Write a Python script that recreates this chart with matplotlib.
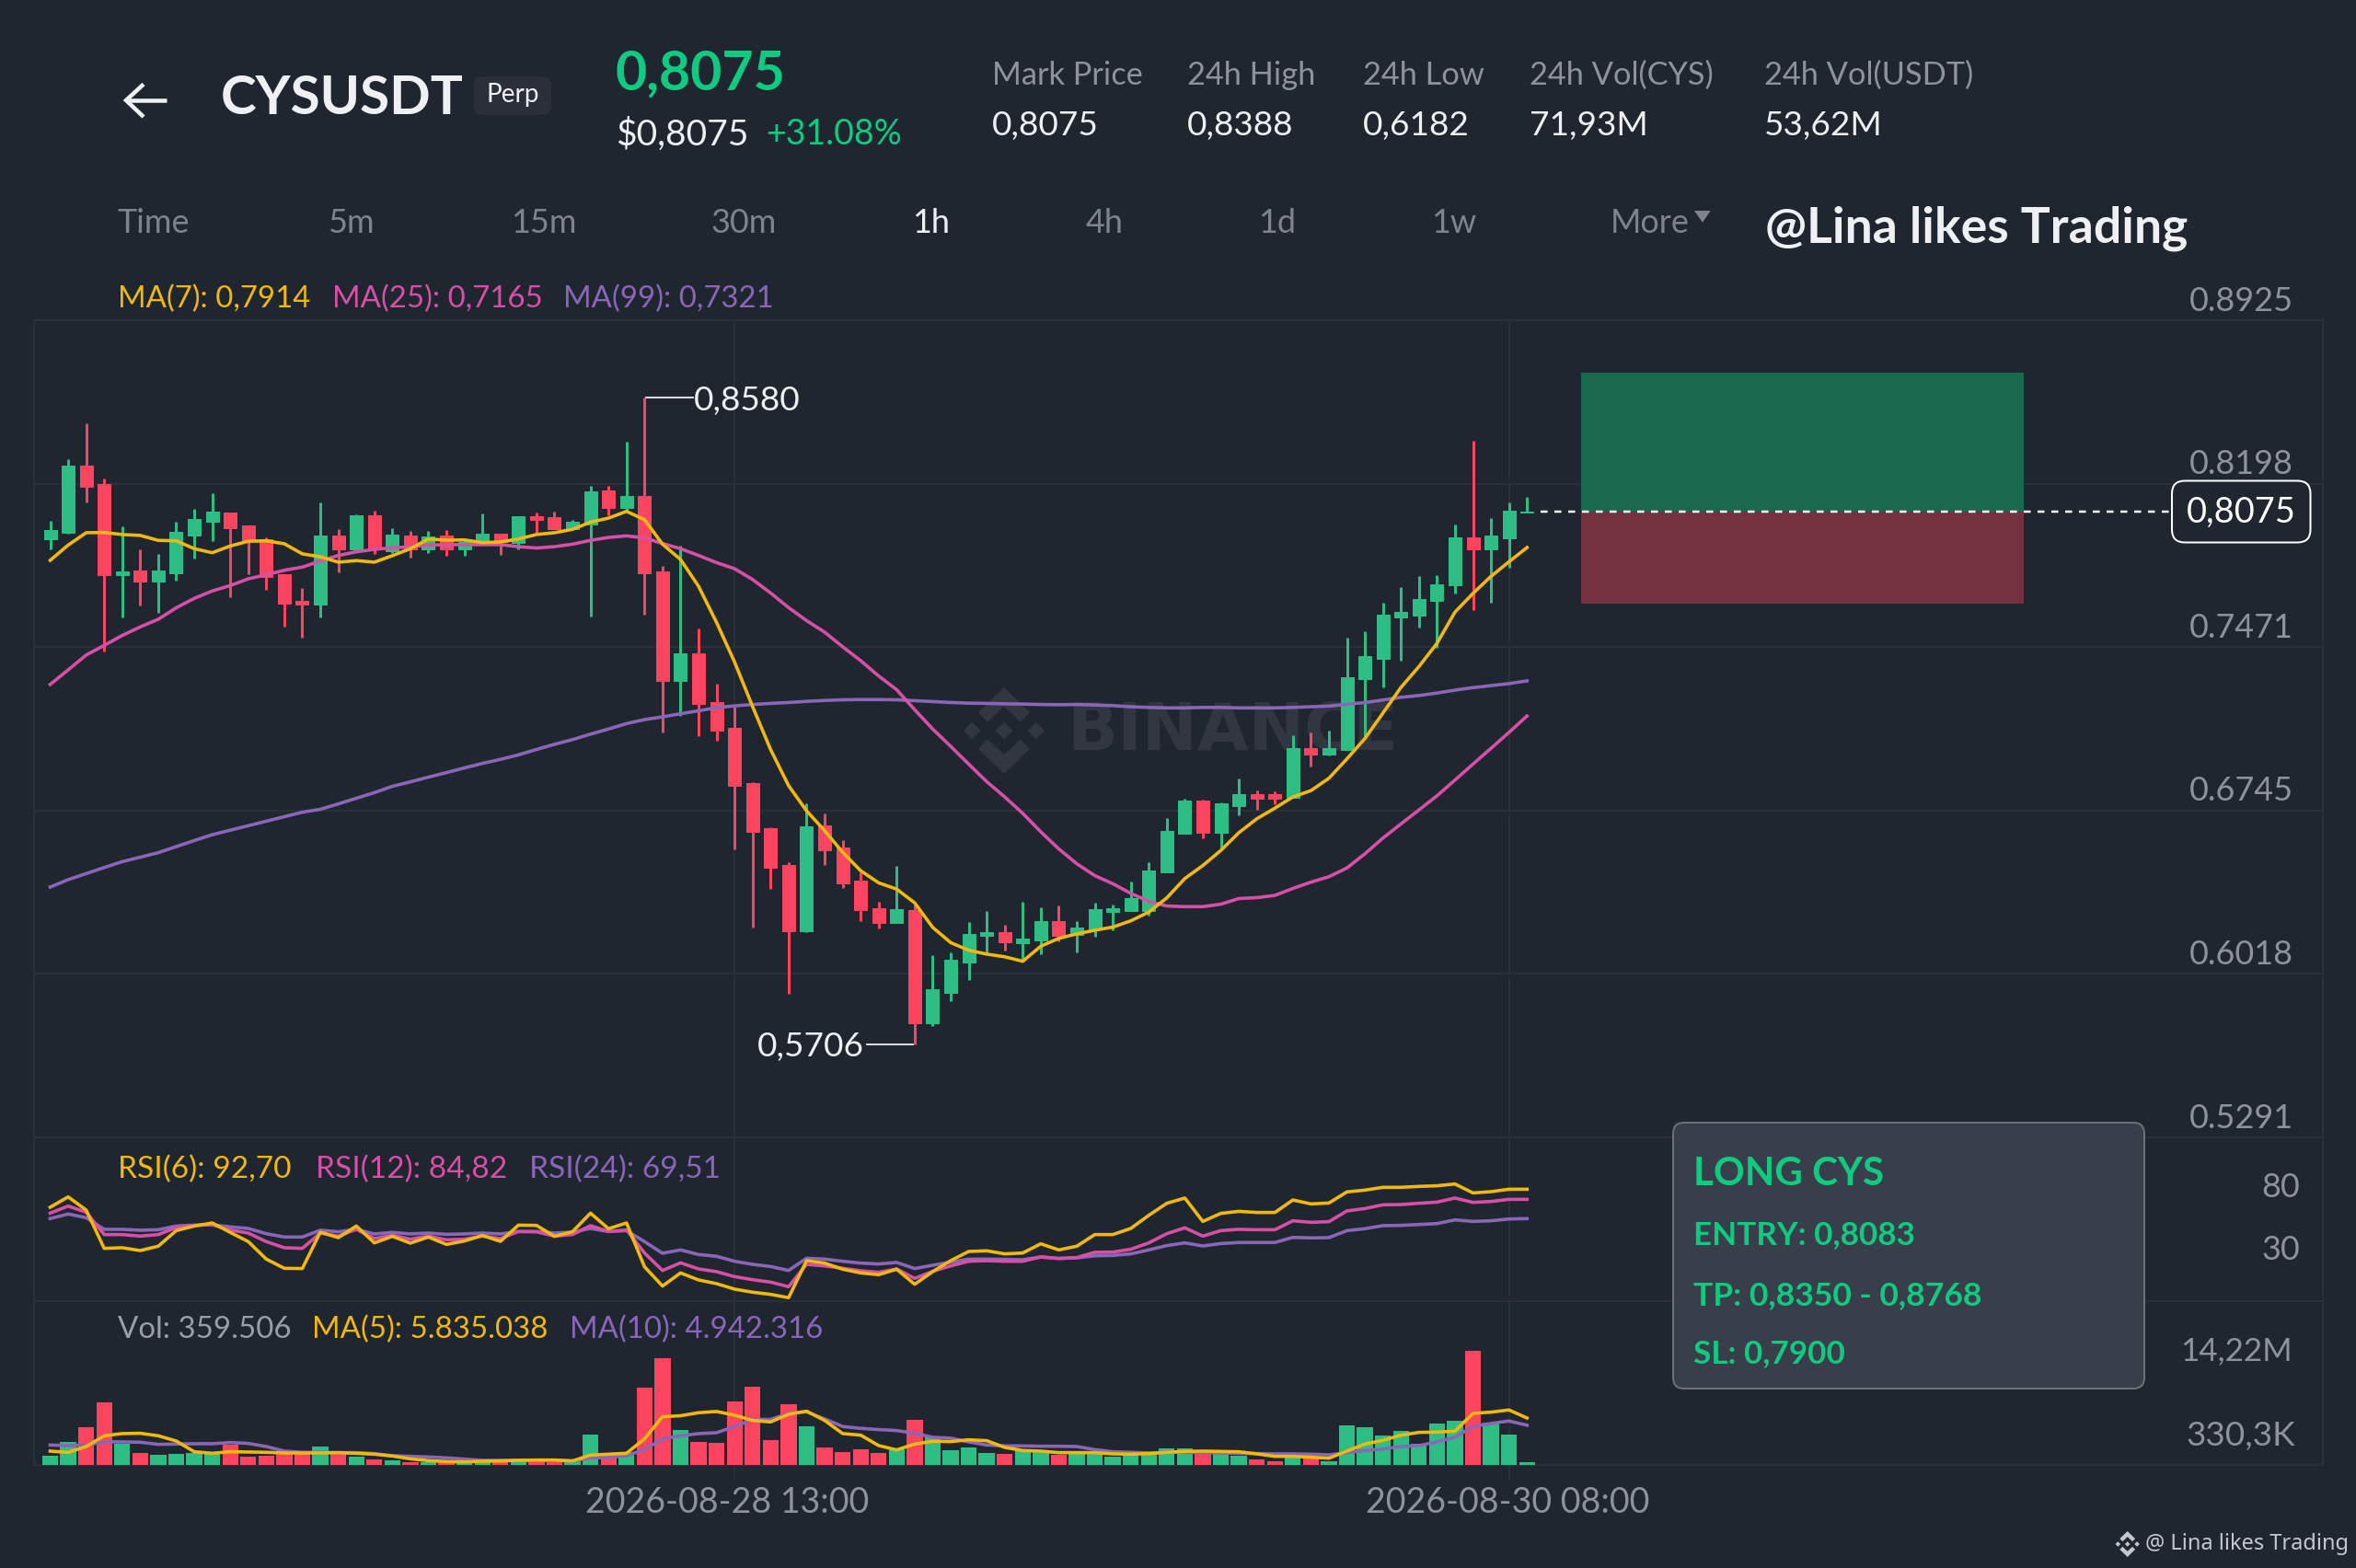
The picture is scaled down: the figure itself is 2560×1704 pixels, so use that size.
import matplotlib
matplotlib.use("Agg")
import matplotlib.pyplot as plt
from matplotlib.patches import FancyBboxPatch, Polygon
from matplotlib.transforms import blended_transform_factory
import numpy as np

plt.rcParams['font.family'] = ['Lato', 'DejaVu Sans']

highs = [.8032,.8307,.8468,.8223,.8008,.7908,.7887,.8029,.8086,.8156,
 .8071,.8011,.7959,.7797,.7736,.8115,.7995,.8062,.8077,.7999,
 .7987,.7988,.7992,.7957,.8064,.7977,.8052,.8071,.8072,.8038,
 .8188,.8188,.8383,.8580,.7831,.7922,.7554,.7309,.7207,.6869,
 .6671,.6514,.6777,.6732,.6614,.6470,.6337,.6498,.6327,.6102,
 .6114,.6248,.6296,.6236,.6337,.6316,.6323,.6254,.6336,.6328,
 .6429,.6516,.6710,.6797,.6794,.6779,.6885,.6833,.6830,.7081,
 .7093,.7101,.7515,.7540,.7670,.7739,.7787,.7792,.8016,.8388,
 .8047,.8114,.8141]
lows = [.7906,.7977,.8116,.7453,.7602,.7656,.7625,.7766,.7867,.7942,
 .7693,.7794,.7726,.7564,.7513,.7602,.7802,.7899,.7884,.7890,
 .7871,.7890,.7879,.7879,.7929,.7882,.7906,.7970,.7995,.7995,
 .7606,.8059,.8072,.7616,.7090,.7165,.7077,.7056,.6573,.6225,
 .6395,.5929,.6203,.6502,.6398,.6252,.6221,.6244,.5706,.5786,
 .5898,.5990,.6109,.6121,.6082,.6106,.6164,.6112,.6182,.6212,
 .6298,.6278,.6469,.6642,.6621,.6570,.6722,.6749,.6774,.6802,
 .6940,.6990,.7013,.7076,.7291,.7410,.7557,.7468,.7710,.7635,
 .7670,.7825,.8071]
opens = [.7952,.7980,.8277,.8195,.7790,.7813,.7763,.7800,.7966,.8030,
 .8071,.8011,.7950,.7794,.7676,.7661,.7969,.7908,.8059,.7899,
 .7969,.7905,.7966,.7905,.7936,.7977,.7933,.8052,.8048,.7995,
 .8015,.8168,.8090,.8145,.7808,.7320,.7445,.7227,.7114,.6866,
 .6668,.6503,.6207,.6679,.6581,.6434,.6312,.6244,.6303,.5798,
 .5933,.6069,.6187,.6202,.6155,.6165,.6251,.6191,.6215,.6293,
 .6298,.6298,.6469,.6642,.6790,.6647,.6766,.6819,.6816,.6802,
 .7021,.6993,.7013,.7330,.7419,.7604,.7612,.7677,.7745,.7961,
 .7905,.7956,.8071]
closes = [.7991,.8280,.8184,.7790,.7808,.7761,.7811,.7982,.8041,.8072,
 .7999,.7943,.7783,.7665,.7661,.7966,.7906,.8058,.7906,.7972,
 .7906,.7963,.7906,.7939,.7976,.7939,.8052,.8036,.7995,.8029,
 .8165,.8092,.8143,.7800,.7320,.7444,.7217,.7101,.6855,.6650,
 .6491,.6209,.6675,.6569,.6421,.6300,.6243,.6304,.5798,.5948,
 .6079,.6196,.6202,.6157,.6174,.6251,.6187,.6224,.6306,.6309,
 .6356,.6476,.6653,.6790,.6644,.6777,.6819,.6799,.6799,.7021,
 .6993,.7021,.7339,.7432,.7615,.7627,.7685,.7750,.7959,.7905,
 .7966,.8078,.8075]
ma7 = [.7857,.7925,.7980,.7981,.7972,.7968,.7946,.7944,.7909,.7891,.7921,.7942,.7944,.7931,.7886,.7873,.7849,.7856,.7849,.7878,
 .7909,.7952,.7947,.7948,.7936,.7939,.7952,.7972,.7980,.7995,.8027,.8045,.8075,.8038,.7929,.7861,.7742,.7581,
 .7405,.7207,.7016,.6855,.6743,.6655,.6559,.6477,.6423,.6395,.6334,.6225,.6157,.6123,.6106,
 .6094,.6074,.6141,.6176,.6196,.6212,.6226,.6254,.6293,.6356,.6442,.6500,.6567,.6646,.6708,.6755,.6805,.6833,.6888,.6974,.7065,.7178,.7292,.7385,.7488,.7627,.7710,.7786,.7851,.7914]
ma25 = [.7305,.7370,.7436,.7479,.7523,.7561,.7595,.7646,.7688,.7721,
 .7745,.7775,.7793,.7813,.7827,.7854,.7879,.7895,.7906,.7913,
 .7917,.7925,.7927,.7927,.7927,.7927,.7918,.7912,.7918,.7929,
 .7946,.7959,.7966,.7957,.7932,.7909,.7879,.7847,.7820,.7772,
 .7712,.7647,.7589,.7538,.7473,.7411,.7343,.7282,.7193,.7107,
 .7030,.6951,.6873,.6805,.6732,.6650,.6574,.6508,.6455,.6419,
 .6376,.6340,.6320,.6317,.6317,.6328,.6353,.6357,.6367,.6398,
 .6426,.6450,.6489,.6552,.6622,.6685,.6747,.6810,.6880,.6951,
 .7021,.7092,.7165]
ma99 = [.6404,.6437,.6464,.6491,.6517,.6537,.6557,.6584,.6611,.6637,
 .6657,.6677,.6697,.6717,.6737,.6750,.6774,.6799,.6824,.6852,
 .6872,.6893,.6913,.6934,.6954,.6972,.6992,.7016,.7039,.7060,
 .7084,.7107,.7131,.7149,.7161,.7175,.7188,.7202,.7210,.7216,
 .7221,.7225,.7230,.7234,.7237,.7238,.7238,.7237,.7233,.7229,
 .7225,.7222,.7221,.7219,.7218,.7216,.7215,.7216,.7214,.7211,
 .7206,.7203,.7201,.7201,.7203,.7203,.7201,.7201,.7201,.7203,
 .7206,.7209,.7217,.7225,.7236,.7248,.7256,.7267,.7280,.7291,
 .7300,.7309,.7321]
rsi6 = [78.6,86.7,76.4,46.4,46.9,44.7,48.1,60.3,63.9,66.3,58.9,51.7,38.0,30.8,30.6,59.1,54.8,63.9,50.7,55.8,
 50.5,55.3,49.5,52.2,56.5,51.9,64.6,64.4,55.8,59.4,74.0,61.8,66.3,32.0,16.9,27.2,21.7,18.8,14.5,12.1,10.4,7.8,
 36.8,34.9,30.1,27.2,25.8,30.1,18.3,28.2,36.8,44.0,44.5,42.1,42.8,50.0,45.2,48.1,57.2,57.2,62.0,72.3,81.7,85.8,
 67.5,73.8,75.4,74.5,74.5,84.3,81.2,81.9,90.6,92.0,94.2,94.2,94.9,95.4,96.8,89.8,90.8,92.7,92.7]
rsi12 = [74.0,79.5,74.7,57.2,57.2,56.0,57.2,62.7,64.4,64.9,60.8,58.4,51.7,46.9,46.4,58.4,56.0,61.3,54.1,56.7,
 53.6,56.0,53.1,53.6,56.0,54.1,59.6,59.4,56.0,57.2,64.2,59.6,60.8,42.8,29.1,35.1,30.3,28.2,24.3,21.9,20.0,16.4,
 33.9,32.7,30.8,28.9,27.7,30.3,22.9,28.4,32.7,36.3,36.8,36.3,36.3,39.7,38.5,39.2,43.3,43.5,45.7,50.7,57.9,62.5,
 56.0,60.3,61.3,61.0,61.0,68.0,66.8,67.3,75.7,77.6,80.5,80.7,81.7,82.6,85.8,82.4,83.1,84.8,84.8]
rsi24 = [69.7,73.3,70.4,61.3,61.3,60.6,61.0,63.9,64.6,64.9,63.2,62.0,57.9,55.3,55.3,60.6,59.4,61.3,57.7,58.9,
 57.7,58.4,57.4,57.7,58.4,57.7,59.6,59.6,58.4,59.1,62.0,59.6,60.3,51.7,42.6,45.2,41.6,40.2,36.3,33.9,32.2,29.1,
 38.7,38.0,36.3,34.9,34.2,35.4,30.6,33.2,35.6,38.0,38.0,37.8,37.5,39.7,38.5,39.0,40.6,40.9,42.1,45.2,48.6,50.7,
 48.3,50.2,51.0,51.0,51.0,55.0,54.6,54.8,60.3,61.8,64.2,64.4,65.1,65.8,68.7,67.5,68.0,69.4,69.7]
volume = [1.11,2.87,4.66,7.80,2.64,1.45,1.30,1.38,1.45,1.38,2.48,1.03,1.15,1.41,1.34,2.33,1.34,1.03,.65,.54,
 .34,.38,.31,.31,.65,.42,.84,.50,.38,.46,3.75,.96,1.64,9.67,13.3,4.40,2.91,2.71,7.95,9.75,3.10,7.61,4.85,
 2.18,1.64,1.99,1.45,1.99,5.58,3.59,1.83,2.22,1.45,1.34,1.91,1.64,1.22,1.45,1.53,1.03,1.34,1.57,2.03,2.06,
 1.53,1.34,1.15,.65,.42,1.53,.88,.46,4.89,4.74,3.63,4.20,2.68,5.12,5.47,14.22,5.31,3.82,.36]
vol_ma5 = [1.72,1.57,2.29,3.63,3.90,3.94,3.63,2.98,1.64,1.45,1.64,1.61,1.57,1.49,1.49,1.49,1.53,1.45,1.34,1.11,
 .76,.54,.42,.38,.46,.50,.57,.61,.61,.50,1.22,1.34,1.45,3.25,6.00,6.12,6.50,6.65,6.19,5.54,5.35,6.31,6.69,
 5.54,3.90,3.71,2.41,1.87,2.60,2.94,2.91,3.13,3.02,2.18,1.80,1.72,1.53,1.53,1.53,1.38,1.34,1.41,1.57,1.68,
 1.72,1.68,1.64,1.38,1.07,1.07,.96,.84,1.72,2.60,3.06,3.71,4.05,4.09,4.20,6.42,6.57,6.84,5.84]
vol_ma10 = [2.48,2.41,2.48,2.87,2.87,2.83,2.56,2.60,2.64,2.64,2.79,2.68,2.29,1.72,1.57,1.57,1.53,1.53,1.41,1.15,
 1.07,.99,.88,.73,.57,.57,.57,.57,.57,.50,.84,.96,1.15,1.91,3.25,3.63,3.90,4.01,4.78,5.66,5.66,6.42,6.61,
 5.73,4.78,4.55,4.40,4.28,3.94,3.44,3.33,2.87,2.48,2.37,2.37,2.33,2.33,2.29,1.91,1.64,1.57,1.49,1.57,1.57,
 1.53,1.49,1.45,1.41,1.38,1.38,1.34,1.26,1.53,1.80,1.99,2.29,2.41,2.87,3.44,4.78,5.16,5.47,4.94]
price_ticks = [.8925,.8198,.7471,.6745,.6018,.5291]
price_tick_labels = ['0.8925','0.8198','0.7471','0.6745','0.6018','0.5291']
date_ticks = [38, 81]
date_labels = ['2026-08-28 13:00','2026-08-30 08:00']
last_price = .8075
tp_zone = (.8075,.8692)
sl_zone = (.7665,.8075)

W,H = 2560,1704
BG='#1f2630'; GRID='#2a2f39'; UP='#2ebd85'; DN='#fb4560'
YEL='#f0b90b'; MAG='#d84fa6'; PUR='#8a66b8'; GRAY='#8e929c'; TXTG='#0ecb81'; WHITE='#eef0f3'
px=lambda v:v*0.72
LW=px(3.6)

fig=plt.figure(figsize=(W/100,H/100),dpi=100,facecolor=BG)
def overlay(z):
    a=fig.add_axes([0,0,1,1],zorder=z); a.set_xlim(0,W); a.set_ylim(H,0); a.axis('off'); a.patch.set_alpha(0); return a
back=overlay(0); ui=overlay(5)

L,R=36.5,2524
x0,dx=54.5,19.57
xlim=((L-x0)/dx,(R-x0)/dx)
def pane(top,bot,ylim):
    a=fig.add_axes([L/W,1-bot/H,(R-L)/W,(bot-top)/H],zorder=2)
    a.patch.set_alpha(0); a.set_xlim(xlim); a.set_ylim(ylim)
    for s in a.spines.values(): s.set_color(GRID); s.set_linewidth(px(2))
    a.set_xticks(date_ticks); a.set_xticklabels([]); a.set_yticks([])
    a.tick_params(axis='x',length=0)
    a.grid(axis='x',color=GRID,lw=px(2))
    return a
axp=pane(348,1236,(.5291,.8925))
axr=pane(1236,1414,(5.1,133.3))
axv=pane(1414,1592,(0,20.38))
axv.tick_params(axis='x',length=px(15),color=GRID,width=px(2))

idx=np.arange(len(closes))
o,h,l,c=map(np.array,(opens,highs,lows,closes))
cols=[UP if b>=a else DN for a,b in zip(o,c)]

axp.set_yticks(price_ticks); axp.set_yticklabels([]); axp.tick_params(axis='y',length=0)
axp.grid(axis='y',color=GRID,lw=px(2))
axp.vlines(idx,l,h,colors=cols,lw=px(3),zorder=3)
axp.bar(idx,c-o,bottom=o,width=14/dx,color=cols,edgecolor=cols,lw=px(1),zorder=3)
axp.plot(idx,ma99,color=PUR,lw=LW,zorder=4)
axp.plot(idx,ma25,color=MAG,lw=LW,zorder=4)
axp.plot(idx,ma7,color=YEL,lw=LW,zorder=5)
axp.bar((85+109.6)/2,tp_zone[1]-tp_zone[0],bottom=tp_zone[0],width=24.6,color='#19694f',zorder=3)
axp.bar((85+109.6)/2,sl_zone[1]-sl_zone[0],bottom=sl_zone[0],width=24.6,color='#743240',zorder=3)
axp.plot([82.75,117.8],[last_price]*2,color='white',lw=px(2.5),dashes=(3,3),dash_capstyle='butt',zorder=6)
axp.plot([33.09,35.7],[.8580]*2,color=WHITE,lw=px(1.8),zorder=6)
axp.plot([45.37,47.93],[.5706]*2,color=WHITE,lw=px(1.8),zorder=6)
axp.annotate('0,8580',xy=(35.75,.8580),xytext=(0,-3),textcoords='offset pixels',color=WHITE,fontsize=px(37),va='center',ha='left',zorder=7)
axp.annotate('0,5706',xy=(45.2,.5706),xytext=(0,-3),textcoords='offset pixels',color=WHITE,fontsize=px(37),va='center',ha='right',zorder=7)
tr=blended_transform_factory(axp.transAxes,axp.transData)
for p,s in zip(price_ticks,price_tick_labels):
    axp.annotate(s,xy=(1,p),xycoords=tr,xytext=(-32,21),textcoords='offset pixels',color=GRAY,fontsize=px(36),ha='right',va='center',annotation_clip=False)

axr.plot(idx,rsi24,color=PUR,lw=LW)
axr.plot(idx,rsi12,color=MAG,lw=LW)
axr.plot(idx,rsi6,color=YEL,lw=LW)

axv.bar(idx,volume,width=17.3/dx,color=cols,zorder=3)
axv.plot(idx,vol_ma10,color=PUR,lw=LW,zorder=4)
axv.plot(idx,vol_ma5,color=YEL,lw=LW,zorder=5)

def T(x,y,s,size,color=WHITE,ha='left',va='center',weight='normal',ax=ui,**k):
    return ax.text(x,y+2.5,s,fontsize=px(size),color=color,ha=ha,va=va,fontweight=weight,**k)

def logo(cx,cy,r,color,ax):
    def d(q): return [(cx+x*r,cy-y*r) for x,y in q]
    ax.add_patch(Polygon(d([(0,.2),(.2,0),(0,-.2),(-.2,0)]),color=color,lw=0))
    ax.add_patch(Polygon(d([(-.74,.2),(-.54,0),(-.74,-.2),(-.94,0)]),color=color,lw=0))
    ax.add_patch(Polygon(d([(.74,.2),(.94,0),(.74,-.2),(.54,0)]),color=color,lw=0))
    top=[(0,1),(.6,.42),(.38,.2),(0,.56),(-.38,.2),(-.6,.42)]
    ax.add_patch(Polygon(d(top),color=color,lw=0))
    ax.add_patch(Polygon(d([(x,-y) for x,y in top]),color=color,lw=0))

# watermark
logo(1091,794,47,'#313640',back)
T(1159,793,'BINANCE',72,'#313640',weight='bold',ax=back,family=['DejaVu Sans'])

# header
ui.plot([180.7,137],[109,109],color=WHITE,lw=px(4.5),solid_capstyle='butt')
ui.plot([156,137,156],[91.5,109,127],color=WHITE,lw=px(4.5),solid_joinstyle='miter',solid_capstyle='butt')
T(240,105.5,'CYSUSDT',58.5,weight='bold')
ui.add_patch(FancyBboxPatch((518,86),78,36,boxstyle='round,pad=0,rounding_size=6',fc='#2a2f3a',ec='#2a2f3a',lw=px(6)))
T(557,100,'Perp',28,ha='center')
T(669,78,'0,8075',59,TXTG,weight='bold')
T(669,143.5,'$0,8075',39)
T(832,143.5,'+31.08%',37.5,TXTG)
for x,lab,val in zip([1077.6,1290,1481,1662,1917],['Mark Price','24h High','24h Low','24h Vol(CYS)','24h Vol(USDT)'],
                     ['0,8075','0,8388','0,6182','71,93M','53,62M']):
    T(x,79.5,lab,34.4,GRAY); T(x,134.5,val,37,WHITE)
T(128,240,'Time',36,'#7e838f')
for x,s in zip([382,591,808,1012,1200,1388,1580],['5m','15m','30m','1h','4h','1d','1w']):
    T(x,240,s,36,WHITE if s=='1h' else '#7e838f',ha='center')
T(1750,240,'More',36,'#7e838f')
ui.add_patch(Polygon([(1841,229),(1858.7,229),(1850,241.7)],color='#7e838f',lw=0))
T(1918,245.5,'@Lina likes Trading',53.5,weight='bold')

# legends
for x,s,cl in [(128,'MA(7): 0,7914',YEL),(361,'MA(25): 0,7165',MAG),(612,'MA(99): 0,7321',PUR)]:
    T(x,322,s,33,cl)
for x,s,cl in [(128,'RSI(6): 92,70',YEL),(343,'RSI(12): 84,82',MAG),(575,'RSI(24): 69,51',PUR)]:
    T(x,1268,s,33.5,cl)
for x,s,cl in [(128,'Vol: 359.506','#9a9ea8'),(339,'MA(5): 5.835.038',YEL),(619,'MA(10): 4.942.316',PUR)]:
    T(x,1442,s,33,cl)
T(2499,1288,'80',36,GRAY,ha='right'); T(2499,1356,'30',36,GRAY,ha='right')
T(2491,1466,'14,22M',35,GRAY,ha='right'); T(2494,1558,'330,3K',37,GRAY,ha='right')
for cx,s in zip((790,1638),date_labels):
    T(cx,1631,s,37.5,GRAY,ha='center')

# last price tag
ui.add_patch(FancyBboxPatch((2360,522.5),150.5,67,boxstyle='round,pad=0,rounding_size=14',fc=BG,ec='white',lw=px(2)))
T(2435,554,'0,8075',38,'white',ha='center')

# signal box
ui.add_patch(FancyBboxPatch((1818,1220),512,289,boxstyle='round,pad=0,rounding_size=12',fc='#393f4a',ec='#6c7079',lw=px(2)))
T(1840,1273,'LONG CYS',42,TXTG,weight='bold')
T(1840,1340,'ENTRY: 0,8083',35,TXTG,weight='bold')
T(1840,1406,'TP: 0,8350 - 0,8768',35.5,TXTG,weight='bold')
T(1840,1469,'SL: 0,7900',35,TXTG,weight='bold')

# footer
logo(2311.7,1678,14,'#c4c8cc',ui)
T(2331,1675,'@ Lina likes Trading',23.6,'#c4c8cc',family=['Noto Sans','DejaVu Sans'])

fig.savefig('out.png',dpi=100,facecolor=BG)
